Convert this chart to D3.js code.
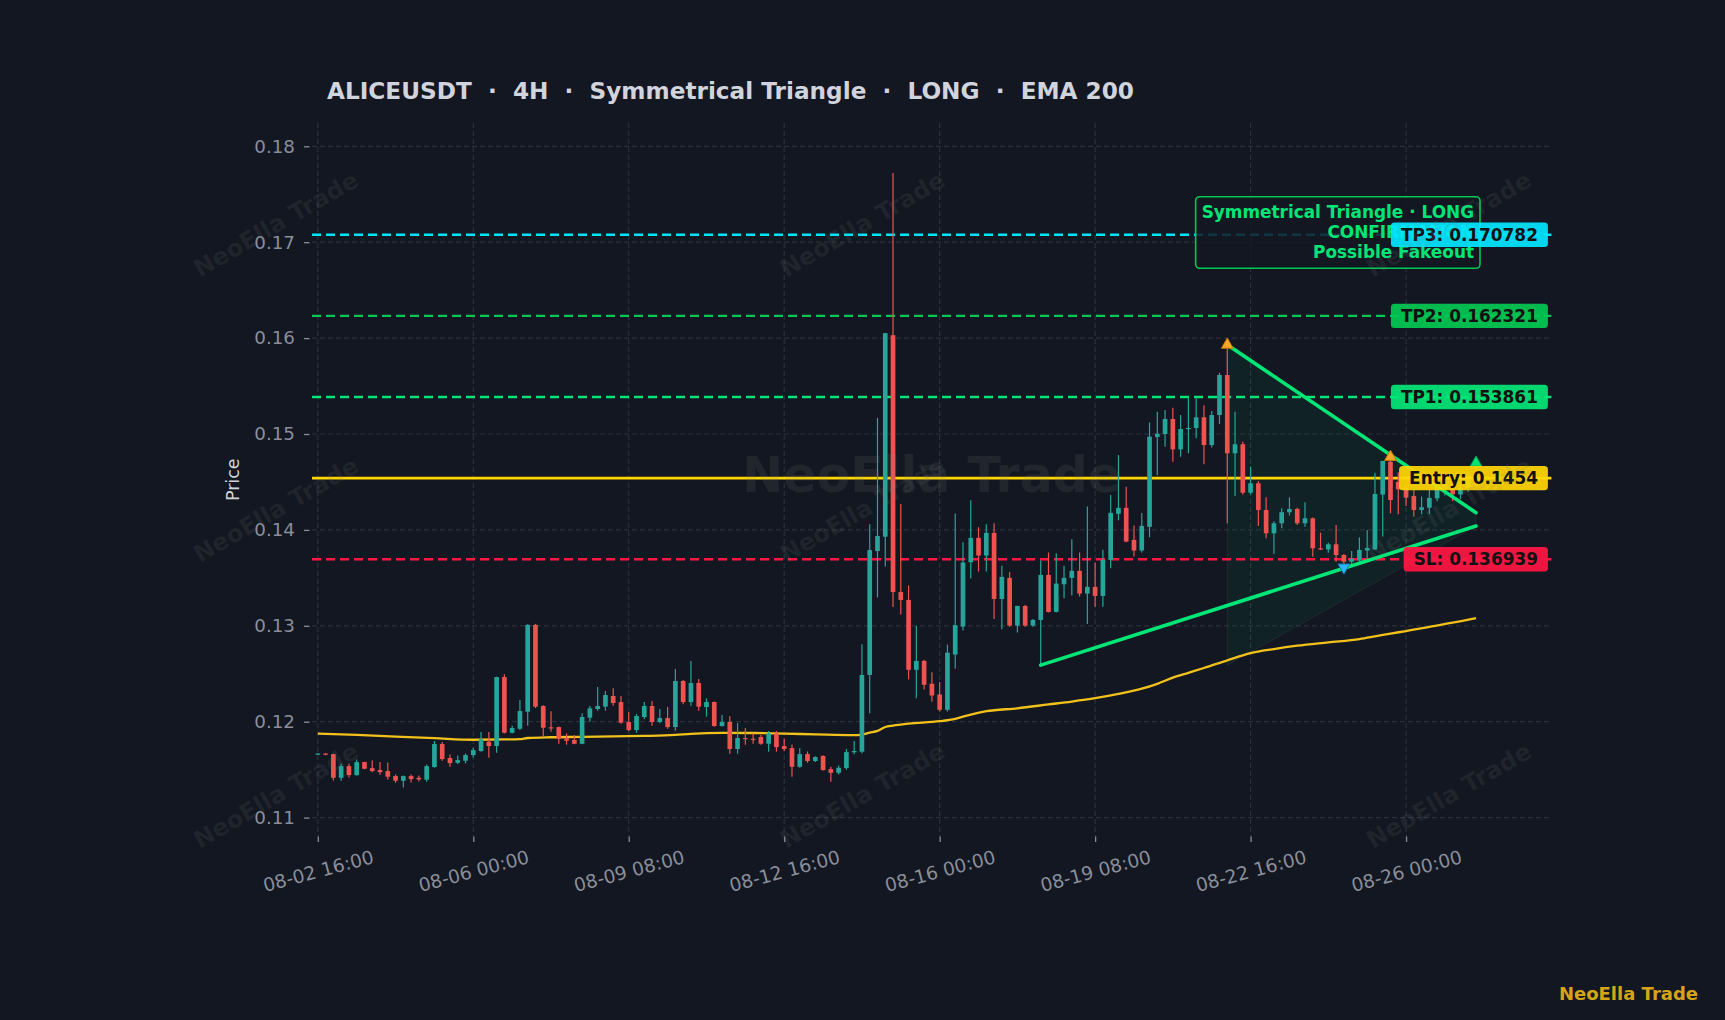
<!DOCTYPE html>
<html>
<head>
<meta charset="utf-8">
<script src="https://cdnjs.cloudflare.com/ajax/libs/d3/7.8.5/d3.min.js"></script>
<style>
body { margin: 0; background: #131722; }
text { font-family: "DejaVu Sans", sans-serif; }
</style>
</head>
<body>
<svg id="chart"></svg>
<script>

// ---- data (4H candles from 08-02 16:00) ----
var opens = [
.11660,.11668,.11662,.11415,.11537,.11443,.11579,.11516,.11496,.11485,
.11433,.11384,.11433,.11415,.11395,.11527,.11767,.11621,.11572,.11593,
.11652,.11694,.11791,.11746,.12466,.11885,.11927,.12104,.13010,.12164,
.11942,.11944,.11826,.11809,.11770,.12042,.12132,.12157,.12268,.12205,
.11997,.11913,.12049,.12164,.11997,.12038,.11944,.12424,.12205,.12404,
.12153,.12205,.11955,.11997,.11715,.11830,.11823,.11840,.11770,.11878,
.11746,.11725,.11530,.11662,.11590,.11642,.11506,.11467,.11516,.11683,
.11687,.12488,.13779,.13929,.16030,.13352,.13270,.12541,.12634,.12396,
.12284,.12124,.12701,.12992,.13663,.13917,.13733,.13969,.13280,.13500,
.13002,.13207,.13002,.13061,.13531,.13145,.13433,.13500,.13573,.13336,
.13406,.13312,.13687,.14168,.14230,.13896,.13785,.14032,.14968,.15000,
.15157,.14840,.15050,.15063,.15174,.14885,.15198,.15615,.14799,.14893,
.14388,.14486,.14208,.13965,.14069,.14184,.14218,.14069,.14121,.13808,
.13797,.13850,.13738,.13668,.13680,.13785,.13797,.14368,.14711,.14500,
.14434,.14354,.14208,.14232,.14329,.14434,.14480,.14370,.14440,.14520]
var highs = [
.11670,.11672,.11665,.11565,.11565,.11607,.11582,.11596,.11579,.11575,
.11450,.11440,.11450,.11440,.11555,.11798,.11788,.11659,.11648,.11669,
.11729,.11892,.11892,.12470,.12494,.11958,.12226,.13015,.13020,.12171,
.12108,.11950,.11878,.11861,.12087,.12164,.12362,.12320,.12348,.12268,
.12101,.12080,.12205,.12216,.12132,.12153,.12550,.12435,.12633,.12445,
.12244,.12210,.12070,.12056,.11986,.11934,.11878,.11861,.11903,.11903,
.11826,.11763,.11722,.11690,.11640,.11650,.11530,.11544,.11715,.11798,
.12807,.14058,.15169,.16052,.17722,.14270,.13420,.12999,.12645,.12515,
.12414,.12804,.14171,.13872,.14310,.14028,.14060,.14070,.13625,.13562,
.13210,.13218,.13071,.13680,.13765,.13757,.13625,.13903,.13765,.14244,
.13660,.13792,.14363,.14780,.14450,.14046,.14175,.15120,.15233,.15250,
.15274,.15198,.15372,.15372,.15300,.15240,.15639,.15930,.15233,.14920,
.14659,.14510,.14340,.14090,.14225,.14340,.14230,.14288,.14130,.13971,
.13866,.14051,.13750,.13780,.13923,.13999,.14597,.14720,.14760,.14600,
.14470,.14416,.14347,.14423,.14490,.14550,.14520,.14500,.14580,.14700]
var lows = [
.11655,.11650,.11388,.11384,.11419,.11436,.11505,.11474,.11447,.11398,
.11363,.11314,.11367,.11377,.11374,.11520,.11593,.11530,.11558,.11565,
.11628,.11687,.11624,.11676,.11878,.11878,.11913,.11958,.12143,.11843,
.11896,.11770,.11760,.11765,.11765,.12000,.12115,.12115,.12167,.11979,
.11900,.11885,.12028,.11958,.11983,.11927,.11906,.12181,.12167,.12115,
.12052,.11948,.11950,.11666,.11666,.11760,.11770,.11760,.11687,.11687,
.11694,.11426,.11520,.11572,.11580,.11490,.11374,.11450,.11500,.11660,
.11670,.12087,.13296,.13619,.13196,.13118,.12441,.12244,.12337,.12207,
.12106,.12106,.12552,.12950,.13493,.13566,.13566,.13071,.12964,.12991,
.12929,.12990,.12990,.12591,.13138,.13138,.13287,.13315,.13305,.13018,
.13200,.13200,.13600,.14100,.13870,.13722,.13764,.13924,.14571,.14868,
.14711,.14763,.14800,.14955,.14684,.14860,.15104,.14069,.14354,.14370,
.14370,.14041,.13912,.13749,.14017,.14150,.14050,.14034,.13720,.13790,
.13762,.13668,.13630,.13640,.13669,.13704,.13790,.13930,.14173,.14163,
.14250,.14138,.14163,.14166,.14300,.14360,.14300,.14320,.14400,.14470]
var closes = [
.11668,.11660,.11415,.11537,.11443,.11579,.11509,.11485,.11474,.11426,
.11384,.11433,.11402,.11398,.11537,.11767,.11610,.11568,.11600,.11652,
.11704,.11816,.11746,.12466,.11885,.11934,.12111,.13010,.12157,.11937,
.11936,.11822,.11802,.11770,.12049,.12139,.12164,.12278,.12195,.11990,
.11913,.12059,.12164,.11997,.12038,.11944,.12424,.12205,.12404,.12157,
.12205,.11955,.11997,.11715,.11830,.11823,.11818,.11770,.11878,.11735,
.11715,.11530,.11662,.11590,.11631,.11495,.11467,.11520,.11683,.11694,
.12487,.13790,.13936,.16052,.13352,.13270,.12541,.12634,.12385,.12273,
.12124,.12720,.13006,.13660,.13917,.13733,.13969,.13280,.13510,.13002,
.13207,.13002,.13061,.13531,.13145,.13440,.13500,.13573,.13336,.13406,
.13312,.13687,.14178,.14230,.13879,.13785,.14042,.14972,.15003,.15157,
.14840,.15052,.15063,.15174,.14885,.15198,.15615,.14799,.14893,.14388,
.14486,.14208,.13965,.14069,.14184,.14218,.14069,.14121,.13808,.13797,
.13850,.13738,.13668,.13700,.13791,.13811,.14375,.14719,.14312,.14423,
.14336,.14208,.14236,.14333,.14434,.14480,.14370,.14440,.14520,.14600]

// EMA 200 read at [bar index, value]
var ema = [[0,.11875],[5,.11862],[10,.11845],[15,.11828],[20,.11812],[24,.11815],[26,.11818],
  [27,.11830],[30,.11838],[34,.11842],[38,.11848],[42,.11852],[46,.11862],[48,.11874],[52,.11884],
  [56,.11882],[60,.11876],[64,.11868],[69,.11860],[70,.11866],[71,.11885],[72,.11904],[73,.11945],
  [74,.11960],[76,.11980],[80,.12005],[82,.12030],[84,.12075],[86,.12110],[90,.12140],[94,.12180],
  [97,.12210],[100,.12245],[103,.12290],[106,.12344],[108,.12395],[110,.12460],[112,.12510],
  [114,.12560],[117,.12640],[120,.12716],[123,.12758],[126,.12793],[130,.12828],[134,.12862],
  [136,.12890],[138,.12919],[140,.12945],[143,.12988],[146,.13032],[149,.13081]]

var tickIdx = [0, 20, 40, 60, 80, 100, 120, 140]
var tickLabels = ["08-02 16:00", "08-06 00:00", "08-09 08:00", "08-12 16:00",
                  "08-16 00:00", "08-19 08:00", "08-22 16:00", "08-26 00:00"]
var priceTicks = [0.11, 0.12, 0.13, 0.14, 0.15, 0.16, 0.17, 0.18]

var levelNames = ["TP3", "TP2", "TP1", "Entry", "SL"]
var levelValues = [0.170782, 0.162321, 0.153861, 0.1454, 0.136939]
var levelText = ["TP3: 0.170782", "TP2: 0.162321", "TP1: 0.153861", "Entry: 0.1454", "SL: 0.136939"]

var upperLine = [[117, 0.1593], [149, 0.1418]]
var lowerLine = [[93, 0.1259], [149, 0.1404]]
var pivotHighs = [117, 138]
var pivotLows = [132]
var breakoutIdx = [149]

var title = "ALICEUSDT  \u00b7  4H  \u00b7  Symmetrical Triangle  \u00b7  LONG  \u00b7  EMA 200"
var noteLines = ["Symmetrical Triangle \u00b7 LONG", "CONFIRMATION", "Possible Fakeout"]
var brand = "NeoElla Trade"

// ---- styles ----
var W = 1725, H = 1020
var pL = 312, pR = 1551.4, pT = 123, pB = 836.5
var bg = "#131722", upCol = "#26a69a", downCol = "#ef5350", gridCol = "#2b303b", tickCol = "#8a8e99"
var levelStyle = {
  TP3:   { color: "#00e5ff", dash: "9,5" },
  TP2:   { color: "#00c853", dash: "9,5" },
  TP1:   { color: "#00e676", dash: "9,5" },
  Entry: { color: "#ffd600", dash: null },
  SL:    { color: "#ff1744", dash: "9,5" }
}
var triCol = "#00e676"

var svg = d3.select("#chart").attr("width", W).attr("height", H)
svg.append("rect").attr("width", W).attr("height", H).attr("fill", bg)

var x = d3.scaleLinear().domain([-0.75, 158.7]).range([pL, pR])
var y = d3.scaleLinear().domain([0.10803, 0.18243]).range([pB, pT])

// grid
var grid = svg.append("g")
grid.selectAll("line.h").data(priceTicks).join("line").attr("class", "h")
  .attr("x1", pL).attr("x2", pR)
  .attr("y1", function(d) { return y(d) }).attr("y2", function(d) { return y(d) })
  .attr("stroke", gridCol).attr("stroke-width", 1.2).attr("stroke-dasharray", "5,3")
grid.selectAll("line.v").data(tickIdx).join("line").attr("class", "v")
  .attr("x1", function(d) { return x(d) }).attr("x2", function(d) { return x(d) })
  .attr("y1", pT).attr("y2", pB)
  .attr("stroke", gridCol).attr("stroke-width", 1.2).attr("stroke-dasharray", "5,3")

// axes
var yAxis = svg.append("g").attr("transform", "translate(" + (pL - 2.5) + ",0)")
  .call(d3.axisLeft(y).tickValues(priceTicks).tickSize(5.5).tickPadding(9).tickFormat(d3.format(".2f")))
yAxis.select(".domain").remove()
yAxis.selectAll("line").attr("stroke", tickCol).attr("stroke-width", 1.3)
yAxis.selectAll("text").attr("fill", tickCol).style("font-size", "18.3px")
  .style("font-family", "DejaVu Sans")

var xAxis = svg.append("g").attr("transform", "translate(0," + pB + ")")
  .call(d3.axisBottom(x).tickValues(tickIdx).tickSize(5.5).tickFormat(function(d, i) { return tickLabels[i] }))
xAxis.select(".domain").remove()
xAxis.selectAll("line").attr("stroke", tickCol).attr("stroke-width", 1.3)
xAxis.selectAll("text").attr("fill", tickCol).style("font-size", "18.6px")
  .style("font-family", "DejaVu Sans")
  .attr("y", 0).attr("dy", "0.35em").attr("text-anchor", "middle")
  .attr("transform", "translate(0,34.5) rotate(-15)")

svg.append("text").text("Price")
  .attr("transform", "translate(233," + ((pT + pB) / 2) + ") rotate(-90)")
  .attr("text-anchor", "middle").attr("dominant-baseline", "central")
  .attr("fill", "#d1d4dc").style("font-size", "17.5px")

// title
svg.append("text").text(title).attr("x", 327).attr("y", 90)
  .attr("dominant-baseline", "central").attr("fill", "#d1d4dc")
  .style("font-size", "23.2px").style("font-weight", "bold").style("white-space", "pre")

// triangle zone
var zone = [upperLine[0], upperLine[1], lowerLine[1], [upperLine[0][0], lowerLine[0][1]]]
svg.append("path")
  .attr("d", d3.line().x(function(d) { return x(d[0]) }).y(function(d) { return y(d[1]) })(zone) + "Z")
  .attr("fill", "rgba(0,230,118,0.055)").attr("stroke", "rgba(120,140,150,0.12)").attr("stroke-width", 1)

// level lines
svg.append("g").selectAll("line").data(levelNames).join("line")
  .attr("x1", pL).attr("x2", pR)
  .attr("y1", function(d, i) { return y(levelValues[i]) }).attr("y2", function(d, i) { return y(levelValues[i]) })
  .attr("stroke", function(d) { return levelStyle[d].color })
  .attr("stroke-width", function(d) { return d === "Entry" ? 2.6 : 2.4 })
  .attr("stroke-dasharray", function(d) { return levelStyle[d].dash })

// EMA
svg.append("path").datum(ema)
  .attr("d", d3.line().x(function(d) { return x(d[0]) }).y(function(d) { return y(d[1]) }).curve(d3.curveMonotoneX))
  .attr("fill", "none").attr("stroke", "#f2c21b").attr("stroke-width", 2.3)

// candles
var idx = d3.range(opens.length)
var step = x(1) - x(0), bw = step * 0.6
var col = function(i) { return closes[i] >= opens[i] ? upCol : downCol }
var cg = svg.append("g")
cg.selectAll("line").data(idx).join("line")
  .attr("x1", function(i) { return x(i) }).attr("x2", function(i) { return x(i) })
  .attr("y1", function(i) { return y(highs[i]) }).attr("y2", function(i) { return y(lows[i]) })
  .attr("stroke", col).attr("stroke-width", 1.2)
cg.selectAll("rect").data(idx).join("rect")
  .attr("x", function(i) { return x(i) - bw / 2 }).attr("width", bw)
  .attr("y", function(i) { return y(Math.max(opens[i], closes[i])) })
  .attr("height", function(i) { return Math.max(1.2, Math.abs(y(opens[i]) - y(closes[i]))) })
  .attr("fill", col)

// trend lines
var tl = d3.line().x(function(d) { return x(d[0]) }).y(function(d) { return y(d[1]) })
;[upperLine, lowerLine].forEach(function(l) {
  svg.append("path").attr("d", tl(l)).attr("fill", "none")
    .attr("stroke", triCol).attr("stroke-width", 3.6).attr("stroke-linecap", "round")
})

// pivot markers
var tri = d3.symbol(d3.symbolTriangle, 60)
svg.selectAll("path.ph").data(pivotHighs).join("path").attr("class", "ph").attr("d", tri)
  .attr("transform", function(i) { return "translate(" + x(i) + "," + y(highs[i]) + ")" })
  .attr("fill", "#ffa726").attr("stroke", "#c77800").attr("stroke-width", 1)
svg.selectAll("path.pl").data(pivotLows).join("path").attr("class", "pl").attr("d", tri)
  .attr("transform", function(i) { return "translate(" + x(i) + "," + (y(lows[i]) + 2) + ") rotate(180)" })
  .attr("fill", "#29b6f6").attr("stroke", "#0b79b0").attr("stroke-width", 1)
svg.selectAll("path.bo").data(breakoutIdx).join("path").attr("class", "bo").attr("d", tri)
  .attr("transform", function(i) { return "translate(" + x(i) + "," + y(highs[i]) + ")" })
  .attr("fill", "#00e676").attr("stroke", "#00a152").attr("stroke-width", 1)

// note box
var last = opens.length - 1
var note = svg.append("g")
var noteRight = x(last) - 2, noteTop = pT + 88.7
var nt = note.selectAll("text").data(noteLines).join("text")
  .text(function(d) { return d })
  .attr("x", noteRight).attr("y", function(d, i) { return noteTop + i * 20 })
  .attr("text-anchor", "end").attr("dominant-baseline", "central")
  .attr("fill", "#00e676").style("font-size", "16.9px").style("font-weight", "bold")
var nw = d3.max(nt.nodes(), function(n) { return n.getComputedTextLength() })
note.insert("rect", "text")
  .attr("x", noteRight - nw - 6).attr("y", noteTop - 15)
  .attr("width", nw + 12).attr("height", 71.6).attr("rx", 4)
  .attr("fill", "rgba(19,23,34,0.85)").attr("stroke", "#00c853").attr("stroke-width", 1.6)

// level labels
var lab = svg.append("g")
levelNames.forEach(function(name, i) {
  var g = lab.append("g")
  var cy = y(levelValues[i])
  var t = g.append("text").text(levelText[i])
    .attr("x", pR - 13.5).attr("y", cy)
    .attr("text-anchor", "end").attr("dominant-baseline", "central")
    .attr("fill", "#111111").style("font-size", "16.9px").style("font-weight", "bold")
  var tw = t.node().getComputedTextLength()
  g.insert("rect", "text")
    .attr("x", pR - 13.5 - tw - 10).attr("y", cy - 12.2)
    .attr("width", tw + 20).attr("height", 24.4).attr("rx", 3.5)
    .attr("fill", levelStyle[name].color).attr("fill-opacity", 0.93)
})

// watermarks
var wm = svg.append("g").attr("pointer-events", "none")
var wmX = [0.16, 0.5, 0.84], wmY = [0.22, 0.5, 0.78]
wmX.forEach(function(fx) {
  wmY.forEach(function(fy) {
    wm.append("text").text(brand)
      .attr("transform", "translate(" + (fx * W) + "," + (fy * H) + ") rotate(-30)")
      .attr("text-anchor", "middle").attr("dominant-baseline", "central")
      .attr("fill", "#808080").attr("fill-opacity", 0.12)
      .style("font-size", "24px").style("font-weight", "bold")
  })
})
wm.append("text").text(brand)
  .attr("x", (pL + pR) / 2).attr("y", 475)
  .attr("text-anchor", "middle").attr("dominant-baseline", "central")
  .attr("fill", "#808080").attr("fill-opacity", 0.13)
  .style("font-size", "49px").style("font-weight", "bold")

svg.append("text").text(brand).attr("x", 1698).attr("y", 993)
  .attr("text-anchor", "end").attr("dominant-baseline", "central")
  .attr("fill", "#d4a517").style("font-size", "18px").style("font-weight", "bold")

</script>
</body>
</html>
